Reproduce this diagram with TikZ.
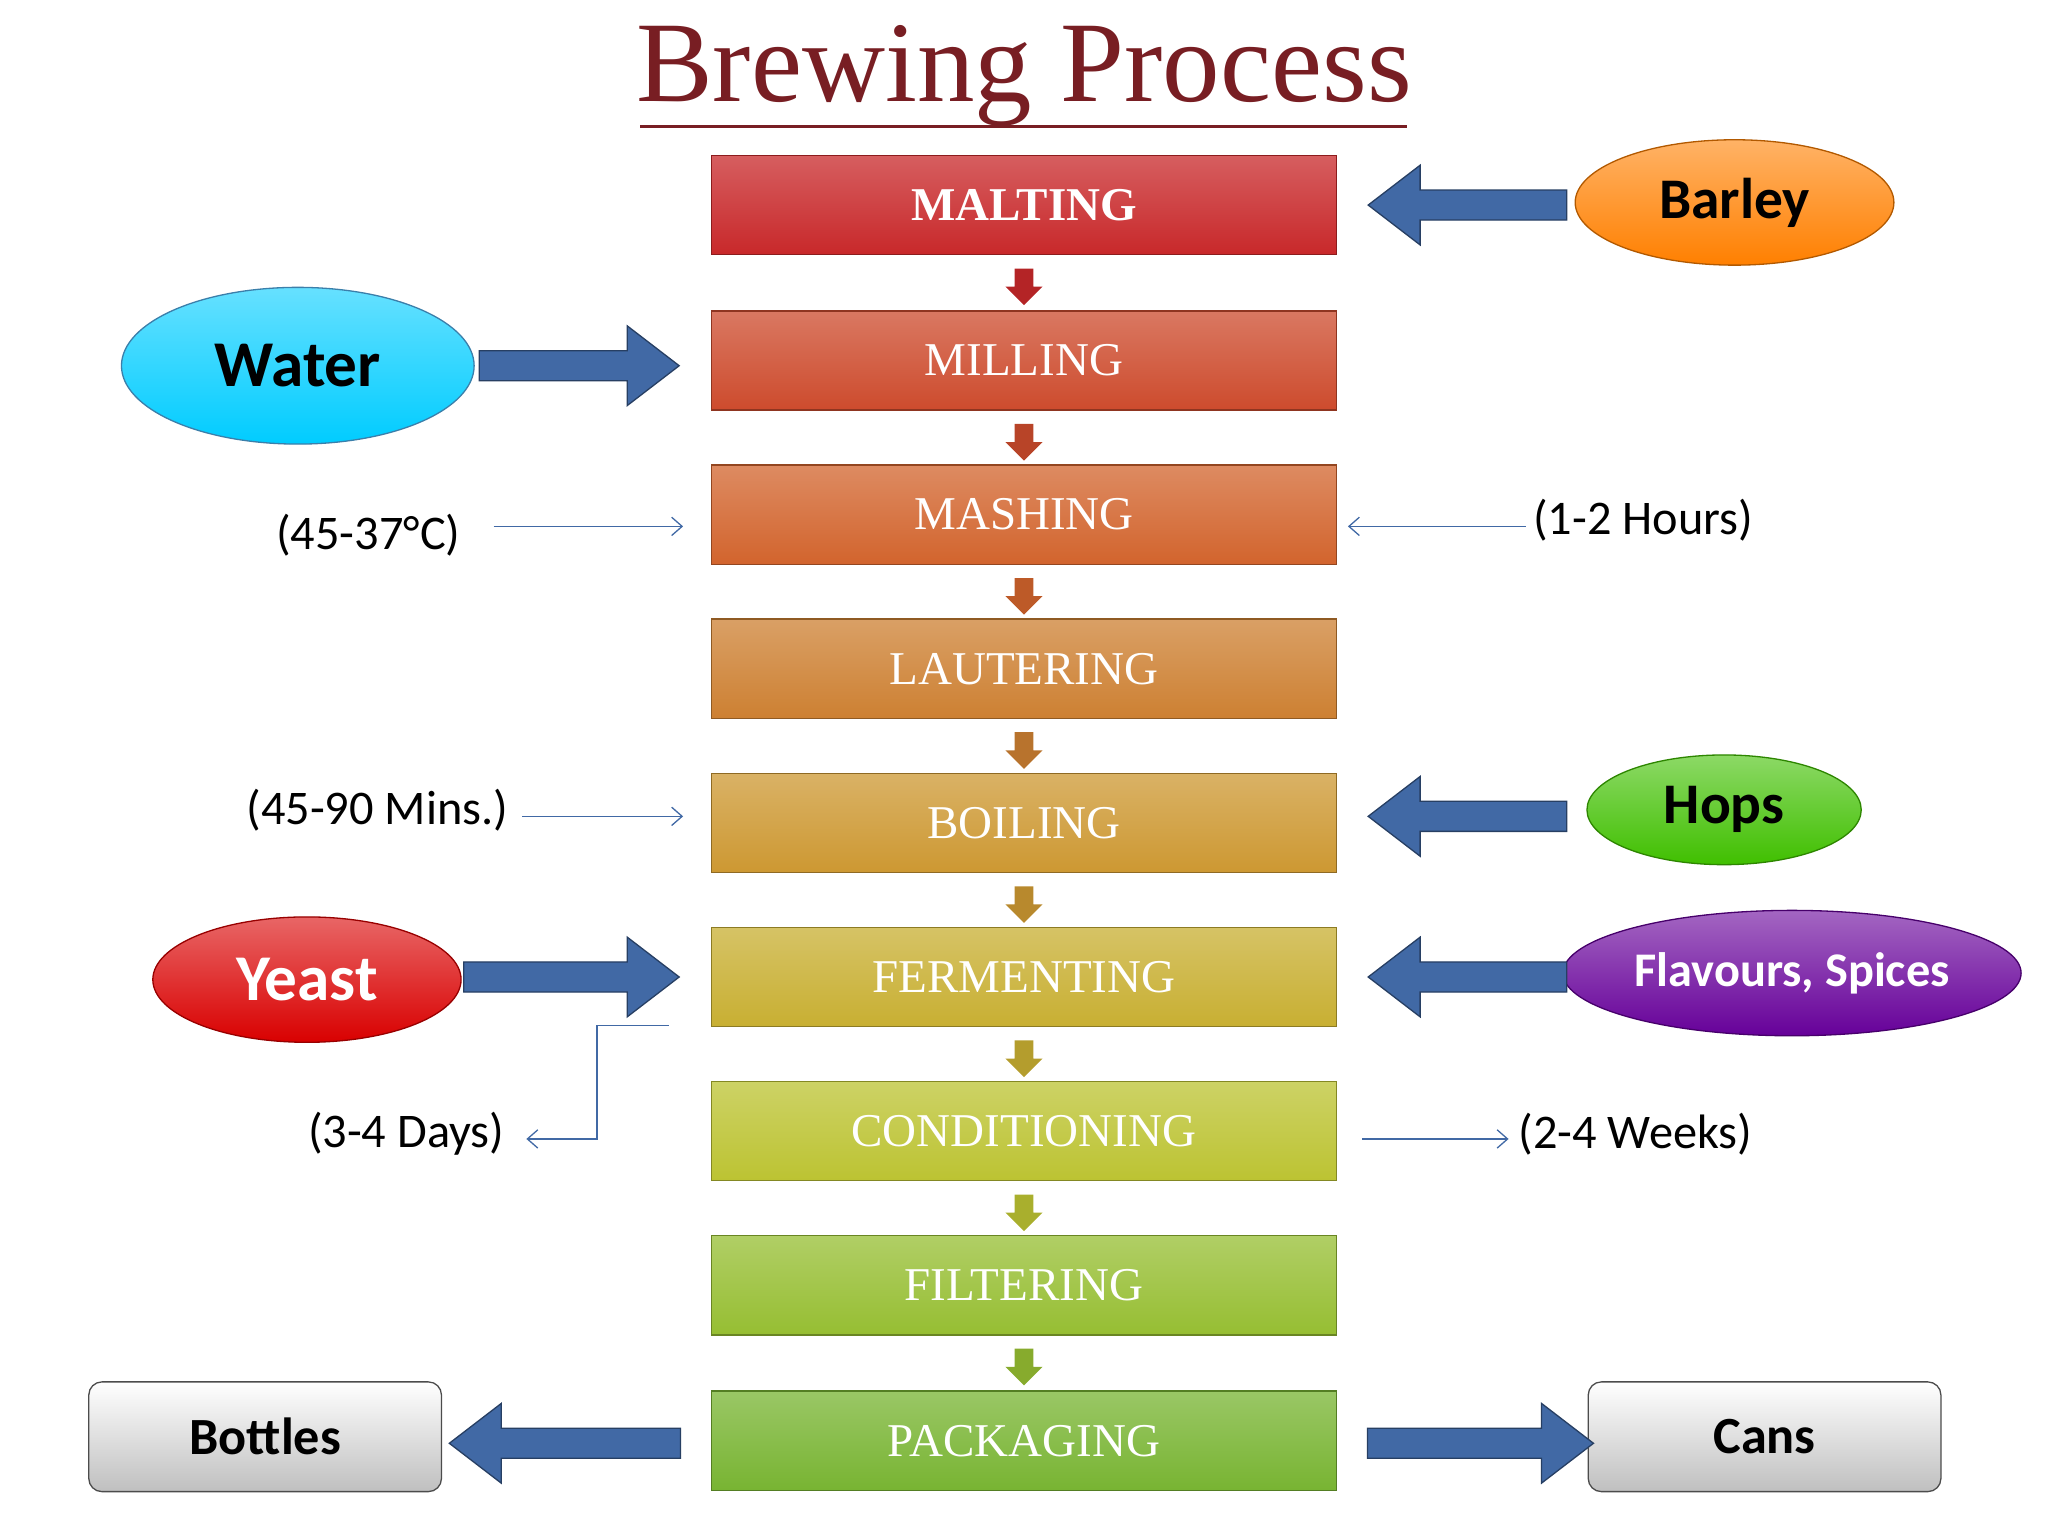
\documentclass[tikz,border=0pt]{standalone}
\usepackage{fontspec}
\setmainfont{Liberation Serif}
\newfontfamily\cb{Carlito}
\usetikzlibrary{shapes.arrows,shapes.geometric,arrows.meta}
\definecolor{c1}{RGB}{200,40,42}
\definecolor{c2}{RGB}{205,75,45}
\definecolor{c3}{RGB}{210,100,45}
\definecolor{c4}{RGB}{205,128,50}
\definecolor{c5}{RGB}{205,152,50}
\definecolor{c6}{RGB}{200,175,50}
\definecolor{c7}{RGB}{188,195,50}
\definecolor{c8}{RGB}{150,190,50}
\definecolor{c9}{RGB}{120,180,50}
\definecolor{bl}{RGB}{65,105,165}
\definecolor{tl}{RGB}{120,30,35}
\tikzset{
 stepbox/.style={draw=#1!70!black,line width=1pt,top color=#1!75!white,bottom color=#1,minimum width=478pt,minimum height=76pt,text=white,font=\fontsize{36}{36}\selectfont},
 dn/.style={single arrow,shape border rotate=270,fill=#1!90!black,minimum height=28pt,inner sep=7pt,single arrow head extend=7pt,single arrow head indent=0pt,draw=none},
 big/.style={single arrow,fill=bl,draw=bl!60!black,line width=1pt,inner sep=11pt,single arrow head extend=19pt,minimum height=#1,single arrow tip angle=75},
 ell/.style={ellipse,draw=#1!70!black,line width=1pt,top color=#1!60!white,bottom color=#1,font=\cb\bfseries\fontsize{44}{44}\selectfont},
 pill/.style={rounded corners=10pt,draw=black!70,line width=1pt,top color=white,bottom color=black!25,minimum width=270pt,minimum height=84pt,font=\cb\bfseries\fontsize{40}{40}\selectfont},
 lab/.style={font=\cb\fontsize{37}{37}\selectfont},
 thin/.style={draw=bl,line width=1pt,-{Straight Barb[length=8pt,width=14pt]}}
}
\begin{document}
\begin{tikzpicture}[x=1pt,y=-1pt]
\useasboundingbox (0,0) rectangle (1568,1176);
\node[text=tl,font=\fontsize{88}{88}\selectfont] (title) at (784,58) {Brewing Process};
\draw[tl,line width=2.5pt] (490,97) -- (1077,97);
\foreach \n/\t/\y/\c in {s2/MILLING/276/c2,s3/MASHING/394/c3,s4/LAUTERING/512/c4,s5/BOILING/630/c5,s6/FERMENTING/748/c6,s7/CONDITIONING/866/c7,s8/FILTERING/984/c8,s9/PACKAGING/1103/c9}
 \node[stepbox=\c] (\n) at (784,\y) {\t};
\node[stepbox=c1,font=\bfseries\fontsize{36}{36}\selectfont] (s1) at (784,157) {MALTING};
\foreach \y/\c in {216/c1,335/c2,453/c3,571/c4,689/c5,807/c6,925/c7,1043/c8}
 \node[dn=\c] at (784,\y) {};
% ellipses
\node[ell=orange,minimum width=244pt,minimum height=96pt] (barley) at (1328,155) {Barley};
\node[ell=cyan!80!blue,minimum width=270pt,minimum height=120pt,font=\cb\bfseries\fontsize{50}{50}\selectfont] (water) at (228,280) {Water};
\node[ell=green!50!olive,minimum width=210pt,minimum height=84pt] (hops) at (1320,620) {Hops};
\node[ell=red!85!black,text=white,minimum width=236pt,minimum height=96pt,font=\cb\bfseries\fontsize{50}{50}\selectfont] (yeast) at (235,750) {Yeast};
\node[ell=violet!80!blue,text=white,minimum width=330pt,minimum height=96pt,font=\cb\bfseries\fontsize{37}{37}\selectfont] (flav) at (1372,745) {Flavours, Spices};
\node[pill] (bottles) at (203,1100) {Bottles};
\node[pill] (cans) at (1351,1100) {Cans};
% big arrows
\node[big=152pt,shape border rotate=180] (a1) at (1131,157) {};
\node[big=153pt] (a2) at (436,280) {};
\node[big=152pt,shape border rotate=180] (a3) at (1131,625) {};
\node[big=165pt] (a4) at (430,748) {};
\node[big=152pt,shape border rotate=180] (a5) at (1131,748) {};
\node[big=177pt,shape border rotate=180] (a6) at (440,1105) {};
\node[big=173pt] (a7) at (1126,1105) {};
% thin labels
\node[lab] (l1) at (282,410) {(45-37°C)};
\node[lab] (l2) at (1258,398) {(1-2 Hours)};
\node[lab] (l3) at (289,620) {(45-90 Mins.)};
\node[lab] (l4) at (311,868) {(3-4 Days)};
\node[lab] (l5) at (1252,868) {(2-4 Weeks)};
\coordinate (p1) at (378,403); \coordinate (q1) at (523,403);
\coordinate (p2) at (1168,403); \coordinate (q2) at (1032,403);
\coordinate (p3) at (400,625); \coordinate (q3) at (523,625);
\coordinate (p4) at (512,785); \coordinate (q4) at (403,872);
\coordinate (p5) at (1043,872); \coordinate (q5) at (1155,872);
\draw[thin] (p1) -- (q1);
\draw[thin] (p2) -- (q2);
\draw[thin] (p3) -- (q3);
\draw[thin] (p4) -- (457,785) -- (457,872) -- (q4);
\draw[thin] (p5) -- (q5);
\end{tikzpicture}
\end{document}
